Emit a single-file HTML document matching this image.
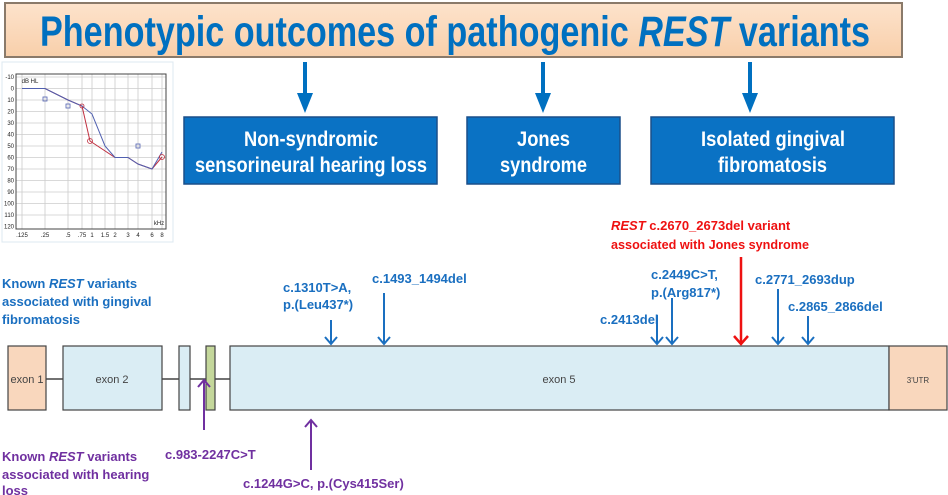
<!DOCTYPE html>
<html><head><meta charset="utf-8"><style>
body{margin:0;background:#fff;}
svg{display:block;font-family:"Liberation Sans",Arial,sans-serif;}
</style></head><body>
<svg width="948" height="495" viewBox="0 0 948 495" xmlns="http://www.w3.org/2000/svg">
<defs>
<linearGradient id="ban" x1="0" y1="0" x2="0" y2="1"><stop offset="0" stop-color="#fde3cc"/><stop offset="1" stop-color="#f8cfaa"/></linearGradient>
</defs>
<rect x="5" y="3" width="897" height="54" fill="url(#ban)" stroke="#8a7a6a" stroke-width="2"/>
<text x="40" y="46" textLength="830" lengthAdjust="spacingAndGlyphs" font-size="43" font-weight="bold" fill="#0070c0">Phenotypic outcomes of pathogenic <tspan font-style="italic">REST</tspan> variants</text>
<g fill="#0070c0" stroke="#0070c0">
<line x1="305" y1="62" x2="305" y2="95" stroke-width="4"/><polygon points="297,93 313,93 305,113" stroke="none"/>
<line x1="543" y1="62" x2="543" y2="95" stroke-width="4"/><polygon points="535,93 551,93 543,113" stroke="none"/>
<line x1="750" y1="62" x2="750" y2="95" stroke-width="4"/><polygon points="742,93 758,93 750,113" stroke="none"/>
</g>
<g stroke="#1a4f8a" stroke-width="1.5">
<rect x="184" y="117" width="253" height="67" fill="#0a72c4"/>
<rect x="467" y="117" width="153" height="67" fill="#0a72c4"/>
<rect x="651" y="117" width="243" height="67" fill="#0a72c4"/>
</g>
<g fill="#fff" font-weight="bold" font-size="21" lengthAdjust="spacingAndGlyphs">
<text x="244" y="146" textLength="134" lengthAdjust="spacingAndGlyphs">Non-syndromic</text><text x="195" y="172" textLength="232" lengthAdjust="spacingAndGlyphs">sensorineural hearing loss</text>
<text x="517" y="146" textLength="53" lengthAdjust="spacingAndGlyphs">Jones</text><text x="500" y="172" textLength="87" lengthAdjust="spacingAndGlyphs">syndrome</text>
<text x="701" y="146" textLength="144" lengthAdjust="spacingAndGlyphs">Isolated gingival</text><text x="718" y="172" textLength="109" lengthAdjust="spacingAndGlyphs">fibromatosis</text>
</g>
<rect x="2" y="62" width="171" height="180" fill="#fff" stroke="#dde8f0"/>
<g stroke="#ccc" stroke-width="0.8">
<line x1="16" y1="77" x2="166" y2="77"/><line x1="16" y1="88.5" x2="166" y2="88.5"/><line x1="16" y1="100" x2="166" y2="100"/><line x1="16" y1="111.5" x2="166" y2="111.5"/><line x1="16" y1="123" x2="166" y2="123"/><line x1="16" y1="134.5" x2="166" y2="134.5"/><line x1="16" y1="146" x2="166" y2="146"/><line x1="16" y1="157.5" x2="166" y2="157.5"/><line x1="16" y1="169" x2="166" y2="169"/><line x1="16" y1="180.5" x2="166" y2="180.5"/><line x1="16" y1="192" x2="166" y2="192"/><line x1="16" y1="203.5" x2="166" y2="203.5"/><line x1="16" y1="215" x2="166" y2="215"/>
<line x1="22" y1="74" x2="22" y2="229"/><line x1="45" y1="74" x2="45" y2="229"/><line x1="68" y1="74" x2="68" y2="229"/><line x1="82" y1="74" x2="82" y2="229"/><line x1="92" y1="74" x2="92" y2="229"/><line x1="105" y1="74" x2="105" y2="229"/><line x1="115" y1="74" x2="115" y2="229"/><line x1="128" y1="74" x2="128" y2="229"/><line x1="138" y1="74" x2="138" y2="229"/><line x1="152" y1="74" x2="152" y2="229"/><line x1="162" y1="74" x2="162" y2="229"/>
</g>
<rect x="16" y="74" width="150" height="155" fill="none" stroke="#444" stroke-width="1"/>
<g font-size="6" fill="#222" text-anchor="end">
<text x="14" y="79">-10</text><text x="14" y="90.5">0</text><text x="14" y="102">10</text><text x="14" y="113.5">20</text><text x="14" y="125">30</text><text x="14" y="136.5">40</text><text x="14" y="148">50</text><text x="14" y="159.5">60</text><text x="14" y="171">70</text><text x="14" y="182.5">80</text><text x="14" y="194">90</text><text x="14" y="205.5">100</text><text x="14" y="217">110</text><text x="14" y="228.5">120</text>
</g>
<g font-size="6" fill="#222" text-anchor="middle">
<text x="22" y="237">.125</text><text x="45" y="237">.25</text><text x="68" y="237">.5</text><text x="82" y="237">.75</text><text x="92" y="237">1</text><text x="105" y="237">1.5</text><text x="115" y="237">2</text><text x="128" y="237">3</text><text x="138" y="237">4</text><text x="152" y="237">6</text><text x="162" y="237">8</text>
<text x="30" y="83">dB HL</text><text x="159" y="225">kHz</text>
</g>
<polyline points="22,88.5 45,88.5 68,100 82,106 90,141 115,157.5 128,157.5 138,164 152,169 162,157" fill="none" stroke="#c03040" stroke-width="1"/>
<polyline points="22,88.5 45,88.5 68,100 82,106 92,114 105,146 115,157.5 128,157.5 138,164 152,169 162,152" fill="none" stroke="#5060b0" stroke-width="1"/>
<g fill="none" stroke="#c03040" stroke-width="0.8"><circle cx="90" cy="141" r="2.5"/><circle cx="162" cy="157" r="2.5"/><circle cx="82" cy="106" r="2"/></g>
<g fill="none" stroke="#5060b0" stroke-width="0.8"><rect x="43" y="97" width="4" height="4"/><rect x="66" y="104" width="4" height="4"/><rect x="136" y="144" width="4" height="4"/></g>
<line x1="46" y1="379" x2="230" y2="379" stroke="#444" stroke-width="1.5"/>
<g stroke="#444" stroke-width="1.2">
<rect x="8" y="346" width="38" height="64" fill="#f9d7bd"/>
<rect x="63" y="346" width="99" height="64" fill="#daedf4"/>
<rect x="179" y="346" width="11" height="64" fill="#daedf4"/>
<rect x="206" y="346" width="9" height="64" fill="#c4d79b"/>
<rect x="230" y="346" width="659" height="64" fill="#daedf4"/>
<rect x="889" y="346" width="58" height="64" fill="#f9d7bd"/>
</g>
<g font-size="11" fill="#444" text-anchor="middle">
<text x="27" y="383">exon 1</text><text x="112" y="383">exon 2</text><text x="559" y="383">exon 5</text><text x="918" y="383" font-size="8">3'UTR</text>
</g>
<g stroke="#1a6fc0" stroke-width="2" fill="none">
<line x1="331" y1="320" x2="331" y2="344"/><polyline points="325,337 331,344 337,337"/>
<line x1="384" y1="293" x2="384" y2="344"/><polyline points="378,337 384,344 390,337"/>
<line x1="657" y1="315" x2="657" y2="344"/><polyline points="651,337 657,344 663,337"/>
<line x1="672" y1="298" x2="672" y2="344"/><polyline points="666,337 672,344 678,337"/>
<line x1="778" y1="289" x2="778" y2="344"/><polyline points="772,337 778,344 784,337"/>
<line x1="808" y1="316" x2="808" y2="344"/><polyline points="802,337 808,344 814,337"/>
</g>
<g stroke="#ee1111" stroke-width="2.5" fill="none"><line x1="741" y1="257" x2="741" y2="344"/><polyline points="734,336 741,344 748,336"/></g>
<g stroke="#7030a0" stroke-width="2" fill="none">
<line x1="204" y1="430" x2="204" y2="380"/><polyline points="198,387 204,380 210,387"/>
<line x1="311" y1="470" x2="311" y2="420"/><polyline points="305,427 311,420 317,427"/>
</g>
<g font-size="13" font-weight="bold" fill="#1a6fc0">
<text x="2" y="288">Known <tspan font-style="italic">REST</tspan> variants</text>
<text x="2" y="306">associated with gingival</text>
<text x="2" y="324">fibromatosis</text>
<text x="283" y="292">c.1310T&gt;A,</text><text x="283" y="309">p.(Leu437*)</text>
<text x="372" y="283">c.1493_1494del</text>
<text x="600" y="324">c.2413del</text>
<text x="651" y="279">c.2449C&gt;T,</text><text x="651" y="297">p.(Arg817*)</text>
<text x="755" y="284">c.2771_2693dup</text>
<text x="788" y="311">c.2865_2866del</text>
</g>
<g font-size="13" font-weight="bold" fill="#ee1111">
<text x="611" y="230"><tspan font-style="italic">REST</tspan> c.2670_2673del variant</text>
<text x="611" y="249" textLength="198" lengthAdjust="spacingAndGlyphs">associated with Jones syndrome</text>
</g>
<g font-size="13" font-weight="bold" fill="#7030a0">
<text x="2" y="461">Known <tspan font-style="italic">REST</tspan> variants</text>
<text x="2" y="479">associated with hearing</text>
<text x="2" y="495">loss</text>
<text x="165" y="459">c.983-2247C&gt;T</text>
<text x="243" y="488">c.1244G&gt;C, p.(Cys415Ser)</text>
</g>
</svg>
</body></html>
